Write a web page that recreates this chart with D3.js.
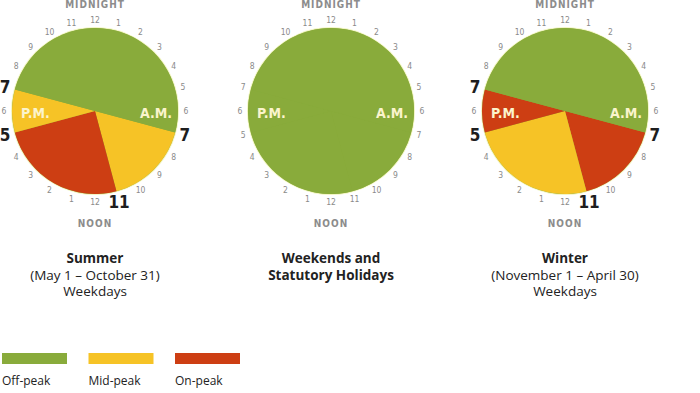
<!DOCTYPE html>
<html>
<head>
<meta charset="utf-8">
<script src="https://cdn.jsdelivr.net/npm/d3@7"></script>
<style>
  body { margin: 0; background: #fff; }
  svg { display: block; }
  .hour { font-family: 'DejaVu Sans Condensed', sans-serif; font-size: 8.5px; fill: #8a8a8a; }
  .bound { font-family: 'DejaVu Sans Condensed', sans-serif; font-size: 17px; font-weight: bold; fill: #1e1e1e; }
  .half { font-family: 'DejaVu Sans Condensed', sans-serif; font-size: 14px; font-weight: bold; fill: #fbf4cc; }
  .edge { font-family: 'DejaVu Sans Condensed', sans-serif; font-size: 10px; font-weight: bold; fill: #8c8c8c; letter-spacing: 1px; }
  .title { font-family: 'Open Sans', sans-serif; font-size: 13.5px; fill: #222; }
  .legend { font-family: 'Open Sans', sans-serif; font-size: 12px; fill: #222; }
</style>
</head>
<body>
<svg id="chart" width="700" height="393"></svg>
<script>
// 24 hour dial, midnight at top, noon at bottom
var hourLabels = ["12","1","2","3","4","5","6","7","8","9","10","11",
                  "12","1","2","3","4","5","6","7","8","9","10","11"];
var periodNames  = ["Off-peak", "Mid-peak", "On-peak"];
var periodColors = ["#89ab3b", "#f6c326", "#cd3e13"];

// period changes at 7 am, 11 am, 5 pm, 7 pm
var boundaryHours  = [7, 11, 17, 19];
var boundaryLabels = ["7", "11", "5", "7"];

// rate from each boundary to the next one
var summerRates  = ["Mid-peak", "On-peak", "Mid-peak", "Off-peak"];
var weekendRates = ["Off-peak", "Off-peak", "Off-peak", "Off-peak"];
var winterRates  = ["On-peak", "Mid-peak", "On-peak", "Off-peak"];

var clocks = [
  {rates: summerRates,  bounds: true,  title: [["Summer", true], ["(May 1 \u2013 October 31)", false], ["Weekdays", false]]},
  {rates: weekendRates, bounds: false, title: [["Weekends and", true], ["Statutory Holidays", true]]},
  {rates: winterRates,  bounds: true,  title: [["Winter", true], ["(November 1 \u2013 April 30)", false], ["Weekdays", false]]}
];

var svg = d3.select("#chart");

var cxs = [95, 331, 565];
var cy = 111;
var r = 83;

var angle = d3.scaleLinear().domain([0, 24]).range([0, 2 * Math.PI]);
var color = d3.scaleOrdinal().domain(periodNames).range(periodColors);
var arc = d3.arc().innerRadius(0).outerRadius(r);

function polar(h, rad) {
  var a = angle(h);
  return [Math.sin(a) * rad, -Math.cos(a) * rad];
}

clocks.forEach(function(c, ci) {
  var g = svg.append("g").attr("transform", "translate(" + cxs[ci] + "," + cy + ")");

  // pale rim
  g.append("circle").attr("r", r + 1).attr("fill", "#f2f5c2");
  g.append("circle").attr("r", r).attr("fill", color("Off-peak"));

  var segs = boundaryHours.map(function(b, i) {
    var e = boundaryHours[(i + 1) % boundaryHours.length];
    if (e <= b) e += 24;
    return {start: b, end: e, rate: c.rates[i]};
  });

  g.selectAll("path.seg").data(segs).enter().append("path")
    .attr("class", "seg")
    .attr("d", function(d) { return arc({startAngle: angle(d.start), endAngle: angle(d.end)}); })
    .attr("fill", function(d) { return color(d.rate); });

  // small hour numbers
  var hrs = d3.range(hourLabels.length).filter(function(h) {
    return !(c.bounds && boundaryHours.indexOf(h) >= 0);
  });
  g.selectAll("text.hour").data(hrs).enter().append("text")
    .attr("class", "hour")
    .attr("text-anchor", "middle")
    .attr("dominant-baseline", "central")
    .attr("x", function(h) { return polar(h, 91)[0]; })
    .attr("y", function(h) { return polar(h, 91)[1]; })
    .text(function(h) { return hourLabels[h]; });

  if (c.bounds) {
    g.selectAll("text.bound").data(boundaryHours).enter().append("text")
      .attr("class", "bound")
      .attr("text-anchor", "middle")
      .attr("dominant-baseline", "central")
      .attr("x", function(h) { return polar(h, 93)[0]; })
      .attr("y", function(h) { return polar(h, 94)[1]; })
      .text(function(h, i) { return boundaryLabels[i]; });
  }

  g.append("text").attr("class", "half").attr("x", 77).attr("y", 7)
    .attr("text-anchor", "end").text("A.M.");
  g.append("text").attr("class", "half").attr("x", -74).attr("y", 7)
    .text("P.M.");

  g.append("text").attr("class", "edge").attr("text-anchor", "middle")
    .attr("y", -103).text("MIDNIGHT");
  g.append("text").attr("class", "edge").attr("text-anchor", "middle")
    .attr("y", 116).text("NOON");

  var t = svg.append("text").attr("class", "title").attr("text-anchor", "middle")
    .attr("x", cxs[ci]).attr("y", 263);
  c.title.forEach(function(line, li) {
    t.append("tspan").attr("x", cxs[ci]).attr("dy", li ? 16.5 : 0)
      .attr("font-weight", line[1] ? "bold" : "normal")
      .text(line[0]);
  });
});

// legend
var lg = svg.selectAll("g.leg").data(periodNames).enter().append("g")
  .attr("class", "leg")
  .attr("transform", function(d, i) { return "translate(" + (2 + i * 86.5) + ",0)"; });
lg.append("rect").attr("y", 353).attr("width", 65).attr("height", 11)
  .attr("fill", function(d) { return color(d); });
lg.append("text").attr("class", "legend").attr("y", 385).text(function(d) { return d; });
</script>
</body>
</html>
